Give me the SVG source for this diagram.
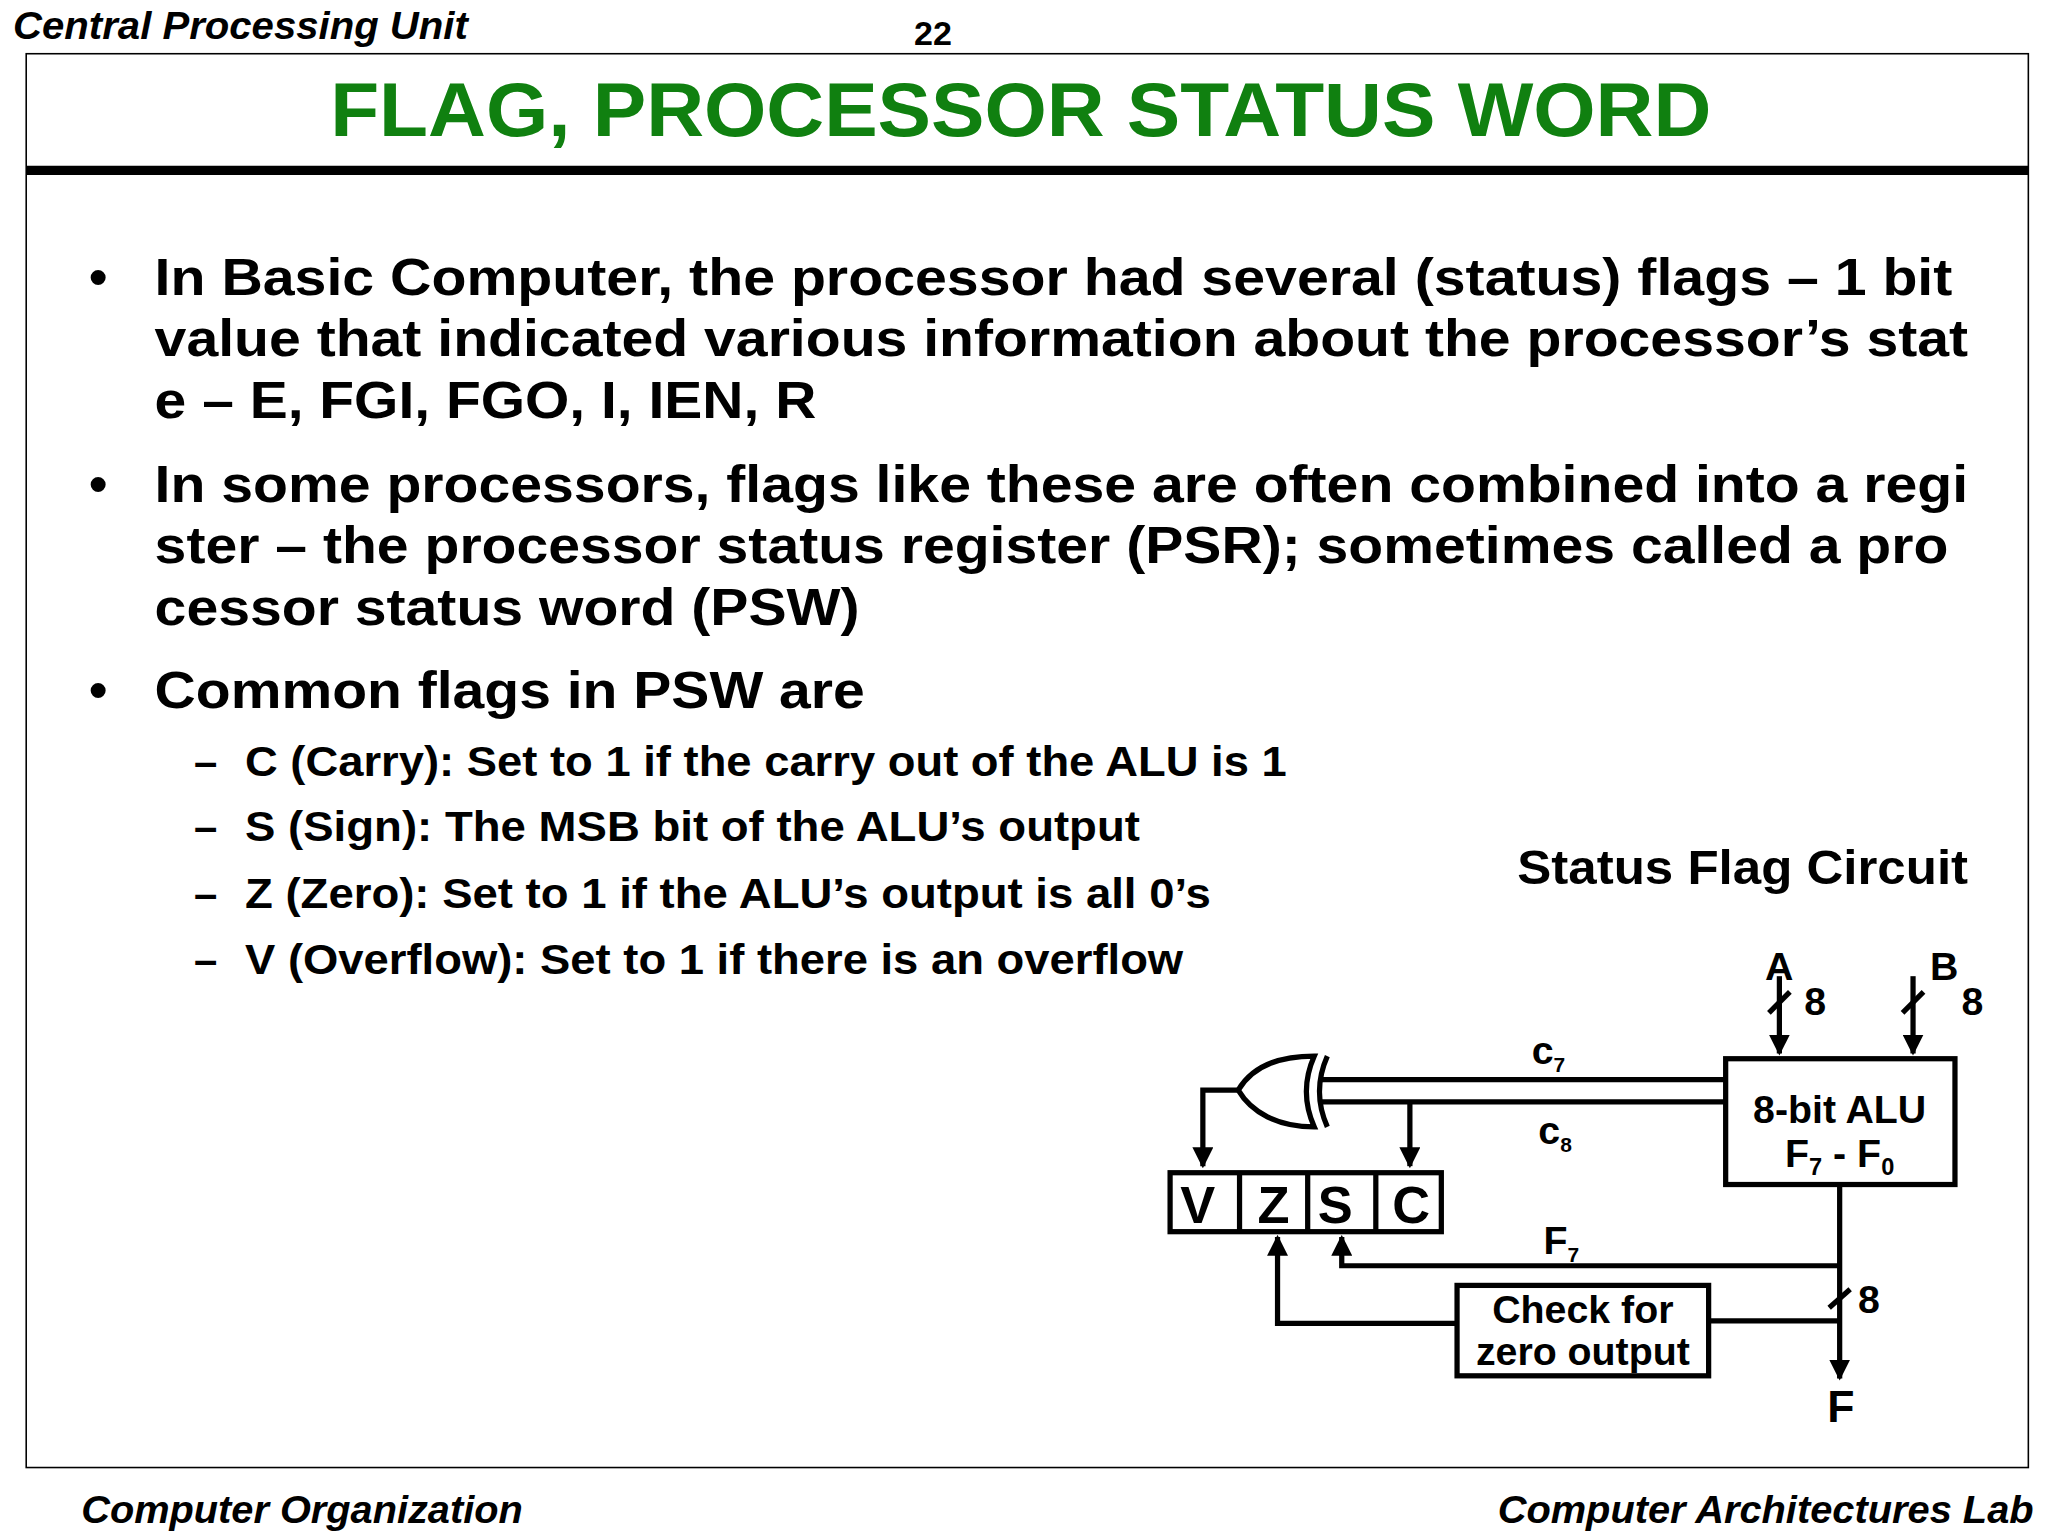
<svg xmlns="http://www.w3.org/2000/svg" width="2048" height="1536" viewBox="0 0 2048 1536">
<defs>
<style>
text{font-family:"Liberation Sans",Arial,sans-serif;font-weight:bold;fill:#000}
.it{font-style:italic;font-size:29px}
.b{font-size:40px}
.s{font-size:32px}
.c{font-size:30px}
.w{fill:none;stroke:#000;stroke-width:4}
.bx{fill:#fff;stroke:#000;stroke-width:4}
</style>
<marker id="ar" viewBox="0 0 10 10" refX="9" refY="5" markerWidth="4" markerHeight="4" orient="auto"><path d="M0,0L10,5L0,10z" fill="#000"/></marker>
</defs>
<rect width="2048" height="1536" fill="#fff"/>
<g transform="scale(1.3103)">
<g id="header">
<text class="it" x="10" y="30" font-size="27" textLength="347" lengthAdjust="spacingAndGlyphs">Central Processing Unit</text>
<text x="712" y="34" font-size="26" text-anchor="middle">22</text>
<rect x="20" y="41" width="1528" height="1079" fill="none" stroke="#000" stroke-width="1.2"/>
<line x1="20" y1="130" x2="1548" y2="130" stroke="#000" stroke-width="7"/>
<text x="252" y="104" font-size="58" style="fill:#108010" textLength="1054" lengthAdjust="spacingAndGlyphs">FLAG, PROCESSOR STATUS WORD</text>
</g>
<g id="bullets">
<text class="b" x="68" y="225">•</text>
<text class="b" x="118" y="225" textLength="1372" lengthAdjust="spacingAndGlyphs">In Basic Computer, the processor had several (status) flags – 1 bit</text>
<text class="b" x="118" y="272" textLength="1384" lengthAdjust="spacingAndGlyphs">value that indicated various information about the processor’s stat</text>
<text class="b" x="118" y="319" textLength="505" lengthAdjust="spacingAndGlyphs">e – E, FGI, FGO, I, IEN, R</text>
<text class="b" x="68" y="383">•</text>
<text class="b" x="118" y="383" textLength="1384" lengthAdjust="spacingAndGlyphs">In some processors, flags like these are often combined into a regi</text>
<text class="b" x="118" y="430" textLength="1369" lengthAdjust="spacingAndGlyphs">ster – the processor status register (PSR); sometimes called a pro</text>
<text class="b" x="118" y="477" textLength="538" lengthAdjust="spacingAndGlyphs">cessor status word (PSW)</text>
<text class="b" x="68" y="540">•</text>
<text class="b" x="118" y="540" textLength="542" lengthAdjust="spacingAndGlyphs">Common flags in PSW are</text>
<text class="s" x="148" y="592">–</text><text class="s" x="187" y="592" textLength="795" lengthAdjust="spacingAndGlyphs">C (Carry): Set to 1 if the carry out of the ALU is 1</text>
<text class="s" x="148" y="642">–</text><text class="s" x="187" y="642" textLength="683" lengthAdjust="spacingAndGlyphs">S (Sign): The MSB bit of the ALU’s output</text>
<text class="s" x="148" y="693">–</text><text class="s" x="187" y="693" textLength="737" lengthAdjust="spacingAndGlyphs">Z (Zero): Set to 1 if the ALU’s output is all 0’s</text>
<text class="s" x="148" y="743">–</text><text class="s" x="187" y="743" textLength="716" lengthAdjust="spacingAndGlyphs">V (Overflow): Set to 1 if there is an overflow</text>
<text x="1158" y="675" font-size="36" textLength="344" lengthAdjust="spacingAndGlyphs">Status Flag Circuit</text>
</g>
<g id="connectors">
<line class="w" x1="1358" y1="745" x2="1358" y2="804" marker-end="url(#ar)"/>
<line class="w" x1="1350" y1="773" x2="1366" y2="757"/>
<line class="w" x1="1460" y1="745" x2="1460" y2="804" marker-end="url(#ar)"/>
<line class="w" x1="1452" y1="773" x2="1468" y2="757"/>
<line class="w" x1="1008" y1="824" x2="1317" y2="824"/>
<line class="w" x1="1008" y1="841" x2="1317" y2="841"/>
<polyline class="w" points="945,832 918,832 918,890" marker-end="url(#ar)"/>
<line class="w" x1="1076" y1="841" x2="1076" y2="890" marker-end="url(#ar)"/>
<line class="w" x1="1404" y1="904" x2="1404" y2="1052" marker-end="url(#ar)"/>
<polyline class="w" points="1404,966 1024,966 1024,944" marker-end="url(#ar)"/>
<line class="w" x1="1396" y1="998" x2="1412" y2="984"/>
<line class="w" x1="1304" y1="1008" x2="1404" y2="1008"/>
<polyline class="w" points="1112,1010 975,1010 975,944" marker-end="url(#ar)"/>
<text class="c" x="1347" y="748">A</text>
<text class="c" x="1377" y="775">8</text>
<text class="c" x="1473" y="748">B</text>
<text class="c" x="1497" y="775">8</text>
<text class="c" x="1169" y="812" font-size="26">c<tspan font-size="16" dy="6">7</tspan></text>
<text class="c" x="1174" y="873" font-size="26">c<tspan font-size="16" dy="6">8</tspan></text>
<text class="c" x="1178" y="957" font-size="26">F<tspan font-size="16" dy="6">7</tspan></text>
<text class="c" x="1418" y="1002">8</text>
<text x="1405" y="1085" font-size="34" text-anchor="middle">F</text>
</g>
<g id="xor">
<path class="bx" d="M1003,806 C975,806 955,815 945,832 C955,849 975,860 1003,860 Q991,833 1003,806 Z"/>
<path class="w" d="M1013,806 Q1001,833 1013,860"/>
</g>
<g id="alu">
<rect class="bx" x="1317" y="808" width="175" height="96"/>
<text class="c" x="1404" y="857" text-anchor="middle">8-bit ALU</text>
<text class="c" x="1404" y="891" text-anchor="middle">F<tspan font-size="18" dy="6">7</tspan><tspan dy="-6"> - F</tspan><tspan font-size="18" dy="6">0</tspan></text>
</g>
<g id="register">
<rect class="bx" x="893" y="895" width="207" height="45"/>
<line class="w" x1="946" y1="895" x2="946" y2="940"/>
<line class="w" x1="998" y1="895" x2="998" y2="940"/>
<line class="w" x1="1050" y1="895" x2="1050" y2="940"/>
<text x="914" y="933" font-size="40" text-anchor="middle">V</text>
<text x="972" y="933" font-size="40" text-anchor="middle">Z</text>
<text x="1019" y="933" font-size="40" text-anchor="middle">S</text>
<text x="1077" y="933" font-size="40" text-anchor="middle">C</text>
</g>
<g id="zerocheck">
<rect class="bx" x="1112" y="981" width="192" height="69"/>
<text class="c" x="1208" y="1010" text-anchor="middle">Check for</text>
<text class="c" x="1208" y="1042" text-anchor="middle">zero output</text>
</g>
<g id="footer">
<text class="it" x="62" y="1162" textLength="337" lengthAdjust="spacingAndGlyphs">Computer Organization</text>
<text class="it" x="1143" y="1162" textLength="409" lengthAdjust="spacingAndGlyphs">Computer Architectures Lab</text>
</g>
</g>
</svg>
